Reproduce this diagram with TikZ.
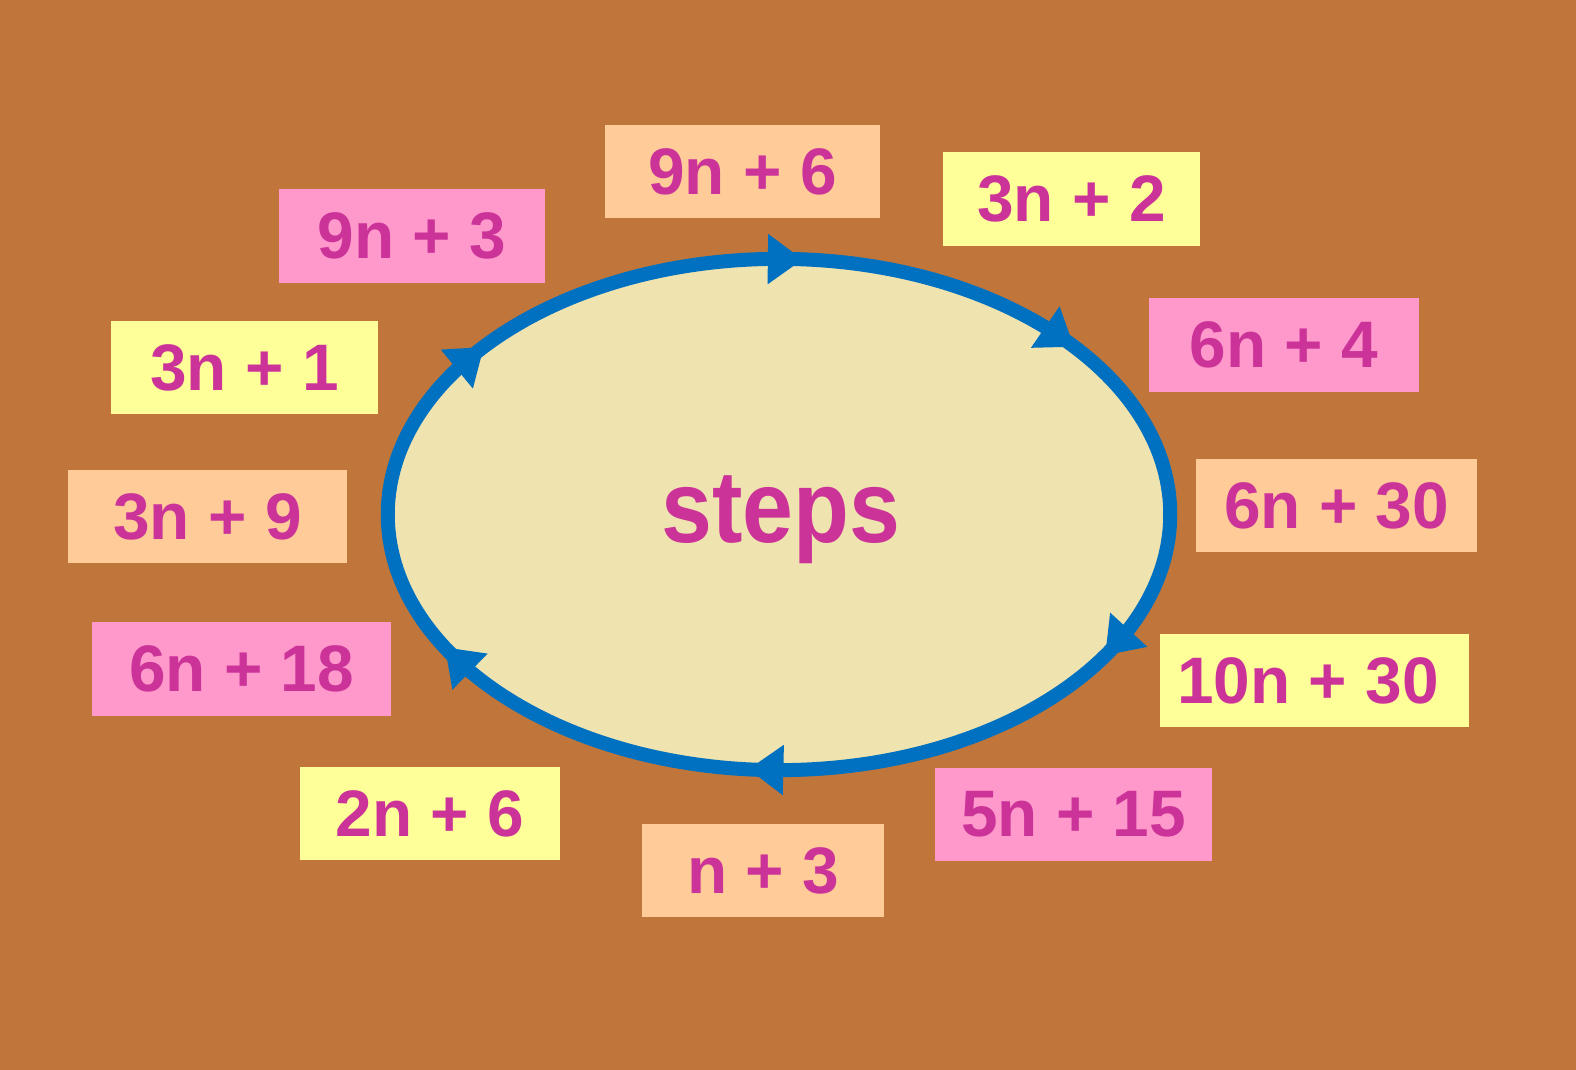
\documentclass[tikz,border=0pt]{standalone}
\usepackage{fontspec}
\setmainfont{Liberation Sans}
\usetikzlibrary{shapes.geometric,arrows.meta}
\definecolor{bgbrown}{RGB}{192,118,58}
\definecolor{pinkbox}{RGB}{255,153,204}
\definecolor{peachbox}{RGB}{255,204,153}
\definecolor{yellowbox}{RGB}{255,255,153}
\definecolor{txtmag}{RGB}{204,51,153}
\definecolor{cream}{RGB}{239,227,176}
\definecolor{cycblue}{RGB}{0,112,192}
\tikzset{
  lbl/.style={rectangle, inner sep=0pt, minimum height=0.935cm, text=txtmag,
    font=\fontsize{18.7}{22}\selectfont\bfseries},
  tipseg/.style={draw=cycblue, line width=0.14cm, -{Triangle[length=0.35cm,width=0.48cm]}}
}
\begin{document}
\begin{tikzpicture}[x=0.01cm,y=-0.01cm]
\fill[bgbrown] (0,0) rectangle (1576,1070);
\useasboundingbox (0,0) rectangle (1576,1070);
% cycle
\node[ellipse, draw=cycblue, line width=0.14cm, fill=cream, inner sep=0pt,
  minimum width=7.82cm, minimum height=5.11cm] (cyc) at (779,514.5) {};
\node[text=txtmag, font=\fontsize{26}{30}\selectfont\bfseries, anchor=base, inner sep=0pt]
  (steps) at (781,542) {\scalebox{1}[1.12]{steps}};
% arrow heads along the cycle (clockwise)
\foreach \a/\n in {86.5/t1, 41/t2, -33.5/t3, -94.5/t4, -148.7/t5, 139/t6}{
  \coordinate (\n) at ({779+391*cos(\a)},{514.5-255.5*sin(\a)});
  \coordinate (\n s) at ({779+391*cos(\a+5)},{514.5-255.5*sin(\a+5)});
  \draw[tipseg] (\n s) -- (\n);
}
% labels
\node[lbl, fill=peachbox,  minimum width=2.75cm] (a1)  at (742.5,171.5) {9n + 6};
\node[lbl, fill=yellowbox, minimum width=2.57cm] (a2)  at (1071.5,199)  {3n + 2};
\node[lbl, fill=pinkbox,   minimum width=2.66cm] (a3)  at (412,236)     {9n + 3};
\node[lbl, fill=pinkbox,   minimum width=2.70cm] (a4)  at (1284,345)    {6n + 4};
\node[lbl, fill=yellowbox, minimum width=2.67cm] (a5)  at (244.5,367.5) {3n + 1};
\node[lbl, fill=peachbox,  minimum width=2.81cm] (a6)  at (1336.5,505.5){6n + 30};
\node[lbl, fill=peachbox,  minimum width=2.79cm] (a7)  at (207.5,516.5) {3n + 9};
\node[lbl, fill=yellowbox, minimum width=3.09cm] (a8)  at (1314.5,680.5){};
\node[text=txtmag, font=\fontsize{18.7}{22}\selectfont\bfseries, inner sep=0pt] (a8t) at (1308,680.5) {10n + 30};
\node[lbl, fill=pinkbox,   minimum width=2.99cm] (a9)  at (241.5,669)   {6n + 18};
\node[lbl, fill=yellowbox, minimum width=2.60cm] (a10) at (430,813.5)   {2n + 6};
\node[lbl, fill=pinkbox,   minimum width=2.77cm] (a11) at (1073.5,814.5){5n + 15};
\node[lbl, fill=peachbox,  minimum width=2.42cm] (a12) at (763,870.5)   {n + 3};
\end{tikzpicture}
\end{document}
